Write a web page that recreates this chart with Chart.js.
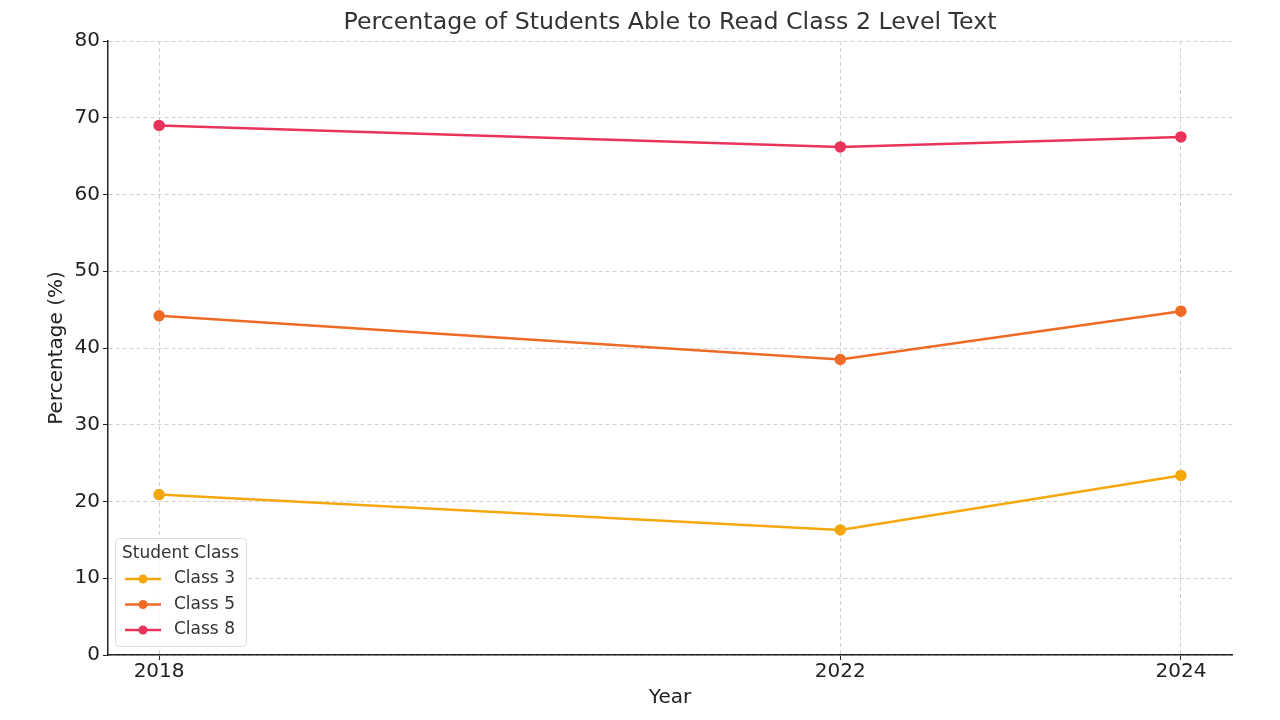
<!DOCTYPE html>
<html>
<head>
<meta charset="utf-8">
<script src="https://cdn.jsdelivr.net/npm/chart.js@4"></script>
<style>
  html, body { margin: 0; padding: 0; background: #fff; }
  #wrap { width: 1280px; height: 720px; }
</style>
</head>
<body>
<div id="wrap"><canvas id="chart" width="1280" height="720"></canvas></div>
<script>
// data
var years = [2018, 2022, 2024];
var classNames = ['Class 3', 'Class 5', 'Class 8'];
var class3 = [20.9, 16.3, 23.4];
var class5 = [44.2, 38.5, 44.8];
var class8 = [69.0, 66.2, 67.5];
var yTicks = [0, 10, 20, 30, 40, 50, 60, 70, 80];

var colors = ['#F5A80E', '#EE6B25', '#E8335A'];
var FONT = "'DejaVu Sans', sans-serif";
var GRID = '#d0d0d0';

function toPoints(vals) {
    return years.map(function(yr, i) { return { x: yr, y: vals[i] }; });
}

var series = [class3, class5, class8];
var datasets = series.map(function(vals, i) {
    return {
        label: classNames[i],
        data: toPoints(vals),
        borderColor: colors[i],
        backgroundColor: colors[i],
        pointBackgroundColor: colors[i],
        pointBorderColor: colors[i],
        borderWidth: 2.5,
        pointRadius: 4.5,
        tension: 0
    };
});

// title drawn over the plot area centre, like the original
var titlePlugin = {
    id: 'plotTitle',
    afterDraw: function(chart) {
        var ctx = chart.ctx, ca = chart.chartArea;
        ctx.save();
        ctx.font = '23.7px ' + FONT;
        ctx.fillStyle = '#333';
        ctx.textAlign = 'center';
        ctx.textBaseline = 'middle';
        ctx.fillText('Percentage of Students Able to Read Class 2 Level Text', (ca.left + ca.right) / 2, 23);
        ctx.restore();
    }
};

// legend box in the lower-left corner of the plot
var legendPlugin = {
    id: 'boxLegend',
    afterDraw: function(chart) {
        var ctx = chart.ctx, ca = chart.chartArea;
        var x = ca.left + 7, w = 131, h = 108;
        var y = ca.bottom - 9 - h;
        ctx.save();
        ctx.fillStyle = 'rgba(255,255,255,0.85)';
        ctx.strokeStyle = '#dcdcdc';
        ctx.lineWidth = 1;
        ctx.beginPath();
        ctx.roundRect(x + 0.5, y + 0.5, w, h, 4);
        ctx.fill();
        ctx.stroke();

        ctx.fillStyle = '#333';
        ctx.font = '17px ' + FONT;
        ctx.textBaseline = 'middle';
        ctx.textAlign = 'left';
        ctx.fillText('Student Class', x + 7, y + 16);

        chart.data.datasets.forEach(function(ds, i) {
            var ly = y + 41 + i * 25.5;
            ctx.strokeStyle = ds.borderColor;
            ctx.lineWidth = 2.5;
            ctx.beginPath();
            ctx.moveTo(x + 10, ly);
            ctx.lineTo(x + 46, ly);
            ctx.stroke();
            ctx.fillStyle = ds.borderColor;
            ctx.beginPath();
            ctx.arc(x + 28, ly, 4.5, 0, Math.PI * 2);
            ctx.fill();
            ctx.fillStyle = '#333';
            ctx.fillText(ds.label, x + 59, ly);
        });
        ctx.restore();
    }
};

var ctx = document.getElementById('chart');
var myChart = new Chart(ctx, {
    type: 'line',
    data: { datasets: datasets },
    options: {
        responsive: false,
        animation: false,
        layout: { padding: { top: 41, right: 48, bottom: 0, left: 0 } },
        plugins: {
            legend: { display: false },
            tooltip: { enabled: false },
            title: { display: false }
        },
        scales: {
            x: {
                type: 'linear',
                min: 2017.7,
                max: 2024.3,
                afterBuildTicks: function(scale) {
                    scale.ticks = years.map(function(v) { return { value: v }; });
                },
                afterFit: function(scale) { scale.height = 65; },
                ticks: {
                    font: { family: FONT, size: 20 },
                    color: '#222',
                    padding: 0,
                    maxRotation: 0,
                    callback: function(v) { return String(v); }
                },
                grid: {
                    color: function(c) {
                        return (c.tick && years.indexOf(c.tick.value) >= 0) ? GRID : 'rgba(0,0,0,0)';
                    },
                    lineWidth: 1,
                    tickLength: 5,
                    tickColor: '#222',
                    tickBorderDash: []
                },
                border: { display: true, color: '#222', width: 1.5, dash: [4, 3] },
                title: {
                    display: true,
                    text: 'Year',
                    font: { family: FONT, size: 20 },
                    color: '#222',
                    padding: { top: 0, bottom: 10 }
                }
            },
            y: {
                min: 0,
                max: 80,
                afterBuildTicks: function(scale) {
                    scale.ticks = yTicks.map(function(v) { return { value: v }; });
                },
                afterFit: function(scale) { scale.width = 108; },
                ticks: {
                    font: { family: FONT, size: 20 },
                    color: '#222',
                    padding: 3
                },
                grid: {
                    color: GRID,
                    lineWidth: 1,
                    tickLength: 5,
                    tickColor: '#222',
                    tickBorderDash: []
                },
                border: { display: true, color: '#222', width: 1.5, dash: [4, 3] },
                title: {
                    display: true,
                    text: 'Percentage (%)',
                    font: { family: FONT, size: 20 },
                    color: '#222',
                    padding: { top: 45, bottom: 0 }
                }
            }
        }
    },
    plugins: [titlePlugin, legendPlugin]
});
</script>
</body>
</html>
